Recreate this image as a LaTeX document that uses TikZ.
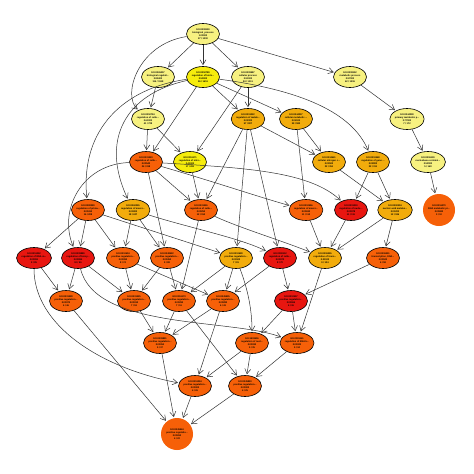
\documentclass[tikz,border=0pt]{standalone}
\usepackage{fontspec}
\setmainfont{Liberation Sans}
\usetikzlibrary{arrows.meta,shapes.geometric}
\definecolor{cP}{RGB}{247,241,128}
\definecolor{cY}{RGB}{246,236,12}
\definecolor{cO}{RGB}{242,172,12}
\definecolor{cR}{RGB}{246,96,8}
\definecolor{cD}{RGB}{232,22,16}
\tikzset{
  go/.style={ellipse, draw=black, line width=0.6pt, minimum width=33pt, minimum height=21pt,
    inner sep=0pt, align=center, font=\fontsize{2.35}{2.9}\selectfont\bfseries},
  gosig/.style={circle, draw=none, minimum size=32pt, inner sep=0pt, align=center,
    font=\fontsize{2.35}{2.9}\selectfont\bfseries},
  edge/.style={draw=black!80, line width=0.5pt, shorten >=1pt,
    -{Straight Barb[length=5pt,width=6pt,line width=0.5pt]}},
}
\begin{document}
\begin{tikzpicture}[x=1pt,y=-1pt]
\fill[white] (0,0) rectangle (474,474);
\useasboundingbox (0,0) rectangle (474,474);
% row 0
\node[go,fill=cP] (n0) at (203,34) {GO:0008150\\biological\_process\\1.00000\\27 / 1000};
% row 1
\node[go,fill=cP] (a1) at (158,77) {GO:0065007\\biological regulati...\\0.85400\\115 / 1918};
\node[go,fill=cY] (a2) at (203,77) {GO:0050789\\regulation of biolo...\\0.50000\\96 / 1651};
\node[go,fill=cP] (a3) at (248,77) {GO:0009987\\cellular process\\0.91000\\84 / 1511};
\node[go,fill=cP] (a4) at (350,77) {GO:0008152\\metabolic process\\0.97000\\62 / 1306};
% row 2
\node[go,fill=cP] (b1) at (148,119) {GO:0050794\\regulation of cellu...\\0.61000\\41 / 728};
\node[go,fill=cO] (b2) at (248,119) {GO:0019222\\regulation of metab...\\0.02300\\57 / 807};
\node[go,fill=cO] (b3) at (296,119) {GO:0044237\\cellular metabolic ...\\0.04100\\39 / 580};
\node[go,fill=cP] (b4) at (407,119) {GO:0044238\\primary metabolic p...\\0.77000\\7 / 172};
% row 3
\node[go,fill=cR] (c1) at (146,162) {GO:0031323\\regulation of cellu...\\0.00540\\24 / 318};
\node[go,fill=cY] (c2) at (190,162) {GO:0051171\\regulation of nitro...\\0.41000\\17 / 281};
\node[go,fill=cO] (c3) at (329,162) {GO:0034641\\cellular nitrogen c...\\0.03500\\22 / 351};
\node[go,fill=cO] (c4) at (373,162) {GO:0010468\\regulation of gene ...\\0.02800\\22 / 311};
\node[go,fill=cP] (c5) at (428,162) {GO:0006139\\nucleobase-containi...\\0.52000\\5 / 168};
% row 4
\node[go,fill=cR] (d1) at (88,210) {GO:0080090\\regulation of prima...\\0.00410\\16 / 208};
\node[go,fill=cO] (d2) at (133,210) {GO:0060255\\regulation of macro...\\0.01800\\18 / 247};
\node[go,fill=cR] (d3) at (201,210) {GO:0031326\\regulation of cellu...\\0.00250\\12 / 150};
\node[go,fill=cR] (d4) at (306,210) {GO:0010556\\regulation of macro...\\0.00630\\11 / 112};
\node[go,fill=cD] (d5) at (351,210) {GO:0019219\\regulation of nucle...\\0.00078\\11 / 111};
\node[go,fill=cO] (d6) at (395,210) {GO:0090304\\nucleic acid metabo...\\0.01200\\12 / 186};
\node[gosig,fill=cR] (d7) at (439,210) {GO:0016070\\RNA metabolic pr...\\0.00680\\3 / 10};
% row 5
\node[go,fill=cD] (e1) at (34,258) {GO:0051252\\regulation of RNA m...\\0.00091\\9 / 85};
\node[go,fill=cD] (e2) at (78,258) {GO:0009889\\regulation of biosy...\\0.00084\\10 / 96};
\node[go,fill=cR] (e3) at (123,258) {GO:0010604\\positive regulation...\\0.00390\\8 / 74};
\node[go,fill=cR] (e4) at (167,258) {GO:0048522\\positive regulation...\\0.00450\\9 / 88};
\node[go,fill=cO] (e5) at (236,258) {GO:0010628\\positive regulation...\\0.01500\\7 / 81};
\node[go,fill=cD] (e6) at (280,258) {GO:2000112\\regulation of cellu...\\0.00072\\8 / 70};
\node[go,fill=cO] (e7) at (325,258) {GO:0006355\\regulation of trans...\\0.01100\\9 / 104};
\node[go,fill=cR] (e8) at (383,258) {GO:0006351\\transcription, DNA...\\0.00520\\6 / 58};
% row 6
\node[go,fill=cR] (f1) at (66,301) {GO:0031328\\positive regulation...\\0.00370\\6 / 46};
\node[go,fill=cR] (f2) at (134,301) {GO:0031325\\positive regulation...\\0.00310\\7 / 53};
\node[go,fill=cR] (f3) at (179,301) {GO:0051173\\positive regulation...\\0.00290\\7 / 51};
\node[go,fill=cR] (f4) at (223,301) {GO:0045935\\positive regulation...\\0.00280\\6 / 43};
\node[go,fill=cD] (f5) at (291,301) {GO:0010557\\positive regulation...\\0.00065\\6 / 36};
% row 7
\node[go,fill=cR] (g1) at (160,343) {GO:0009891\\positive regulation...\\0.00350\\5 / 37};
\node[go,fill=cR] (g2) at (252,343) {GO:1903506\\regulation of nucl...\\0.00330\\5 / 35};
\node[go,fill=cR] (g3) at (297,343) {GO:2001141\\regulation of RNA b...\\0.00320\\5 / 34};
% row 8
\node[go,fill=cR] (h1) at (195,386) {GO:0051254\\positive regulation...\\0.00300\\4 / 26};
\node[go,fill=cR] (h2) at (245,386) {GO:0045893\\positive regulation...\\0.00300\\4 / 25};
% row 9
\node[gosig,fill=cR] (k) at (177,434) {GO:0045944\\positive regulatio...\\0.00260\\4 / 22};

% edges
\draw[edge] (n0) -- (a1);
\draw[edge] (n0) -- (a2);
\draw[edge] (n0) -- (a3);
\draw[edge] (n0) -- (a4);
\draw[edge] (n0) .. controls (138,44) and (122,95) .. (b1);
\draw[edge] (a1) -- (b1);
\draw[edge] (a2) -- (c1);
\draw[edge] (a2) -- (b2);
\draw[edge] (a2) -- (b3);
\draw[edge] (a2) .. controls (300,90) and (352,112) .. (c4);
\draw[edge] (a2) .. controls (125,88) and (80,128) .. (d1);
\draw[edge] (a2) .. controls (125,94) and (100,140) .. (d2);
\draw[edge] (a3) -- (b2);
\draw[edge] (a3) -- (c2);
\draw[edge] (a4) -- (b4);
\draw[edge] (b1) -- (c1);
\draw[edge] (b1) -- (c2);
\draw[edge] (b2) -- (d3);
\draw[edge] (b2) -- (e5);
\draw[edge] (b2) -- (e6);
\draw[edge] (b2) -- (c3);
\draw[edge] (b3) -- (c3);
\draw[edge] (b3) -- (d4);
\draw[edge] (b4) -- (c5);
\draw[edge] (c1) .. controls (82,164) and (58,210) .. (e2);
\draw[edge] (c1) -- (e4);
\draw[edge] (c1) -- (d3);
\draw[edge] (c1) .. controls (215,182) and (262,198) .. (d4);
\draw[edge] (c1) .. controls (250,168) and (310,172) .. (d5);
\draw[edge] (c2) -- (d3);
\draw[edge] (c3) -- (d6);
\draw[edge] (c4) -- (d5);
\draw[edge] (c4) -- (d6);
\draw[edge] (c5) -- (d7);
\draw[edge] (d1) -- (e1);
\draw[edge] (d1) -- (e2);
\draw[edge] (d1) -- (e3);
\draw[edge] (d1) -- (e5);
\draw[edge] (d2) -- (e3);
\draw[edge] (d2) -- (e4);
\draw[edge] (d2) .. controls (190,228) and (240,238) .. (e6);
\draw[edge] (d3) -- (f3);
\draw[edge] (d3) .. controls (240,228) and (280,240) .. (e7);
\draw[edge] (d4) -- (e7);
\draw[edge] (d5) -- (e7);
\draw[edge] (d6) -- (e7);
\draw[edge] (d6) -- (e8);
\draw[edge] (e1) -- (f1);
\draw[edge] (e1) .. controls (34,325) and (100,368) .. (h1);
\draw[edge] (e2) -- (f1);
\draw[edge] (e2) -- (f2);
\draw[edge] (e2) .. controls (95,330) and (230,318) .. (g3);
\draw[edge] (e3) -- (f2);
\draw[edge] (e3) -- (f4);
\draw[edge] (e4) -- (f2);
\draw[edge] (e4) -- (f3);
\draw[edge] (e5) -- (f3);
\draw[edge] (e5) -- (f4);
\draw[edge] (e5) .. controls (248,290) and (252,310) .. (g2);
\draw[edge] (e6) -- (f5);
\draw[edge] (e6) -- (f4);
\draw[edge] (e7) -- (g3);
\draw[edge] (e8) -- (f5);
\draw[edge] (f1) -- (k);
\draw[edge] (f2) -- (g1);
\draw[edge] (f3) -- (g1);
\draw[edge] (f3) -- (h2);
\draw[edge] (f4) -- (g1);
\draw[edge] (f4) -- (h1);
\draw[edge] (f5) -- (g2);
\draw[edge] (f5) -- (g3);
\draw[edge] (g1) -- (k);
\draw[edge] (g2) -- (h2);
\draw[edge] (g2) -- (h1);
\draw[edge] (g3) -- (h2);
\draw[edge] (h1) -- (k);
\draw[edge] (h2) -- (k);
\end{tikzpicture}
\end{document}
